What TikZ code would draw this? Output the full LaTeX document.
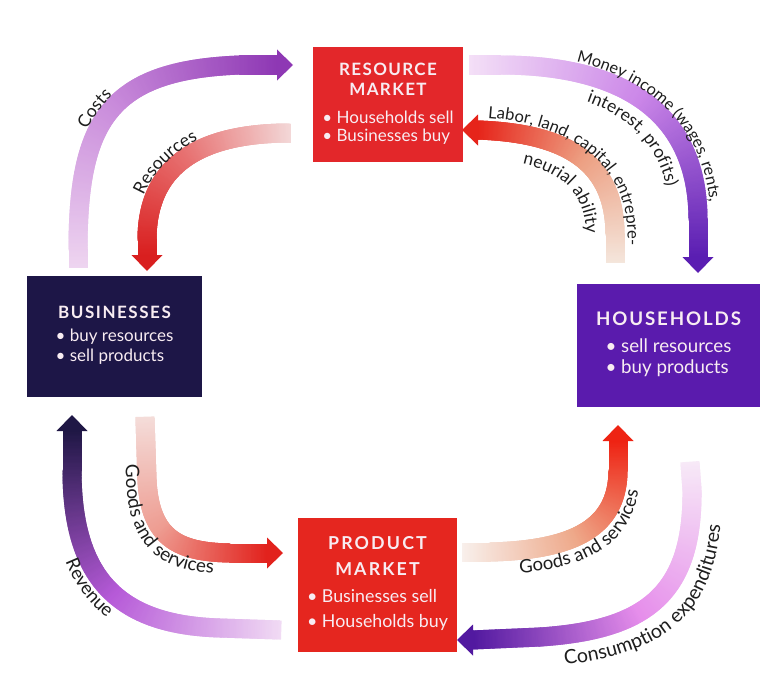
\documentclass[tikz,border=0pt]{standalone}
\usepackage{fontspec}
\setmainfont{Lato}
\usetikzlibrary{decorations.markings,decorations.text}
\definecolor{resred}{HTML}{E3272A}
\definecolor{prodred}{HTML}{E5261F}
\definecolor{busnavy}{HTML}{1D1647}
\definecolor{houpurple}{HTML}{5A1BAD}
\definecolor{boxtext}{HTML}{F8ECF2}
\definecolor{lbltext}{HTML}{1E1E1E}
\definecolor{costA}{HTML}{EED5F0}\definecolor{costB}{HTML}{C98BDB}\definecolor{costC}{HTML}{8E38B4}
\definecolor{resA}{HTML}{F3D8D8}\definecolor{resB}{HTML}{E77070}\definecolor{resC}{HTML}{D91F1F}
\definecolor{monA}{HTML}{F4E0F7}\definecolor{monB}{HTML}{CB86E8}\definecolor{monC}{HTML}{5A1EB2}
\definecolor{labA}{HTML}{F4E6DC}\definecolor{labB}{HTML}{EDA184}\definecolor{labC}{HTML}{E6241A}
\definecolor{revA}{HTML}{F1DBF4}\definecolor{revB}{HTML}{B65AD8}\definecolor{revC}{HTML}{1F1745}
\definecolor{golA}{HTML}{F4DDDA}\definecolor{golB}{HTML}{EE9D92}\definecolor{golC}{HTML}{E2221D}
\definecolor{gorA}{HTML}{F8F0EC}\definecolor{gorB}{HTML}{EEA98A}\definecolor{gorC}{HTML}{EE2313}
\definecolor{conA}{HTML}{F7EAF7}\definecolor{conB}{HTML}{E68EEB}\definecolor{conC}{HTML}{5219A0}
\newcommand\ttlfont[1][8]{\bfseries\addfontfeatures{LetterSpace=#1}}
\tikzset{
  flow/.style n args={3}{decoration={markings,
      mark=between positions 0 and 1 step 0.004 with {%
        \pgfmathtruncatemacro\flowpct{min(200,0.8*\pgfkeysvalueof{/pgf/decoration/mark info/sequence number})}%
        \ifnum\flowpct<100\relax\colorlet{flowcur}{#2!\flowpct!#1}%
        \else\pgfmathtruncatemacro\flowpcb{\flowpct-100}\colorlet{flowcur}{#3!\flowpcb!#2}\fi
        \fill[flowcur] (-1.3pt,-9.5pt) rectangle (1.3pt,9.5pt);}},
    decorate},
  lbl/.style n args={3}{decoration={text along path,text={|\fontsize{#2}{#2}\selectfont|#3},
      text color=lbltext,text align={left indent=#1}},decorate},
  box/.style={inner sep=0pt,text=boxtext},
  headR/.pic={\fill (-1,-15.5) -- (15,0) -- (-1,15.5) -- cycle;},
  headL/.pic={\fill (1,-15.5) -- (-15,0) -- (1,15.5) -- cycle;},
  headU/.pic={\fill (-15.5,1) -- (0,-15) -- (15.5,1) -- cycle;},
  headD/.pic={\fill (-15.5,-1) -- (0,15) -- (15.5,-1) -- cycle;},
}
\newcommand\boxlines[3]{\begin{tabular}{@{}c@{}}#1\\[#3]\begin{tabular}[t]{@{}l@{}}#2\end{tabular}\end{tabular}}
\begin{document}
\begin{tikzpicture}[x=1pt,y=-1pt]
\useasboundingbox (0,0) rectangle (768,677);
\fill[white] (0,0) rectangle (768,677);
% end points
\coordinate (costS) at (78,267);  \coordinate (costE) at (278,65);
\coordinate (resS) at (290,133);  \coordinate (resE) at (147,256);
\coordinate (monS) at (470,65);   \coordinate (monE) at (698,258);
\coordinate (labS) at (615,262);  \coordinate (labE) at (477,130);
\coordinate (revS) at (280,630);  \coordinate (revE) at (72,430);
\coordinate (golS) at (145,418);  \coordinate (golE) at (268,553);
\coordinate (gorS) at (463,552);  \coordinate (gorE) at (618,440);
\coordinate (conS) at (690,463);  \coordinate (conE) at (472,640);
% flows
\path[flow={costA}{costB}{costC}] (costS) -- (78,250) .. controls (78,120) and (110,70) .. (240,65) -- (costE);
\pic[color=costC] at (costE) {headR};
\path[flow={resA}{resB}{resC}] (resS) .. controls (200,133) and (147,165) .. (147,240) -- (resE);
\pic[color=resC] at (resE) {headD};
\path[flow={monA}{monB}{monC}] (monS) -- (500,65) .. controls (620,65) and (698,110) .. (698,220) -- (monE);
\pic[color=monC] at (monE) {headD};
\path[flow={labA}{labB}{labC}] (labS) -- (615,235) .. controls (615,165) and (570,133) .. (labE);
\pic[color=labC] at (labE) {headL};
\path[flow={revA}{revB}{revC}] (revS) -- (220,628) .. controls (120,625) and (72,580) .. (72,470) -- (revE);
\pic[color=revC] at (revE) {headU};
\path[flow={golA}{golB}{golC}] (golS) -- (147,480) .. controls (150,540) and (180,552) .. (230,553) -- (golE);
\pic[color=golC] at (golE) {headR};
\path[flow={gorA}{gorB}{gorC}] (gorS) -- (490,552) .. controls (570,550) and (618,530) .. (618,470) -- (gorE);
\pic[color=gorC] at (gorE) {headU};
\path[flow={conA}{conB}{conC}] (conS) -- (692,490) .. controls (693,595) and (645,630) .. (540,637) -- (conE);
\pic[color=conC] at (conE) {headL};
% labels (baselines parallel to the flows)
\path[lbl={140pt}{17.5}{Costs}] (65.5,267) -- (65.5,250) .. controls (65.5,120) and (110,57.5) .. (240,52.5) -- (278,52.5);
\path[lbl={62pt}{17.5}{Resources}] (134.5,256) -- (134.5,240) .. controls (134.5,165) and (200,120.5) .. (290,120.5);
\path[lbl={107pt}{16.3}{Money income (wages, rents,}] (470,52.5) -- (500,52.5) .. controls (620,52.5) and (710.5,110) .. (710.5,220) -- (710.5,258);
\path[lbl={118pt}{17.5}{interest, profits)}] (470,89) -- (500,89) .. controls (603,89) and (670,130) .. (670,220) -- (670,258);
\path[lbl={11pt}{16.6}{Labor, land, capital, entrepre-}] (477,117.5) .. controls (570,120.5) and (627.5,165) .. (627.5,235) -- (627.5,262);
\path[lbl={46pt}{17.5}{neurial ability}] (477,159) .. controls (550,161) and (586,184) .. (586,235) -- (586,262);
\path[lbl={47pt}{18.8}{Goods and services}] (124,418) -- (126,480) .. controls (129,556) and (169,574) .. (230,574) -- (268,574);
\path[lbl={133pt}{18.5}{Revenue}] (51,430) -- (51,470) .. controls (51,593) and (107,649) .. (220,649) -- (280,651);
\path[lbl={57pt}{18.5}{Goods and services}] (463,574) -- (490,574) .. controls (591,574) and (640,542) .. (640,470) -- (640,440);
\path[lbl={93pt}{19.6}{Consumption expenditures}] (472,670) -- (540,667) .. controls (666,659) and (723,616) .. (722,490) -- (720,463);
% boxes
\node[box,fill=resred,minimum width=150pt,minimum height=115pt,font=\fontsize{17}{19}\selectfont] (resm) at (388,104.5)
  {\boxlines{{\ttlfont RESOURCE}\\[1pt]{\ttlfont MARKET}}{• Households sell\\[-1pt] • Businesses buy}{9pt}};
\node[box,fill=busnavy,minimum width=175pt,minimum height=121pt,font=\fontsize{17}{19}\selectfont] (bus) at (114.5,336.5)
  {\boxlines{{\ttlfont[9] BUSINESSES}}{• buy resources\\[1pt] • sell products}{4pt}};
\node[box,fill=houpurple,minimum width=183pt,minimum height=123pt,font=\fontsize{18.7}{20}\selectfont] (hou) at (668.5,345)
  {\boxlines{{\ttlfont[10] HOUSEHOLDS}}{• sell resources\\[1pt] • buy products}{7pt}};
\node[box,fill=prodred,minimum width=159pt,minimum height=134pt,font=\fontsize{17.8}{19}\selectfont] (prod) at (377.5,585)
  {\boxlines{{\ttlfont[12] PRODUCT}\\[7pt]{\ttlfont[12] MARKET}}{• Businesses sell\\[6pt] • Households buy}{8pt}};
\end{tikzpicture}
\end{document}
